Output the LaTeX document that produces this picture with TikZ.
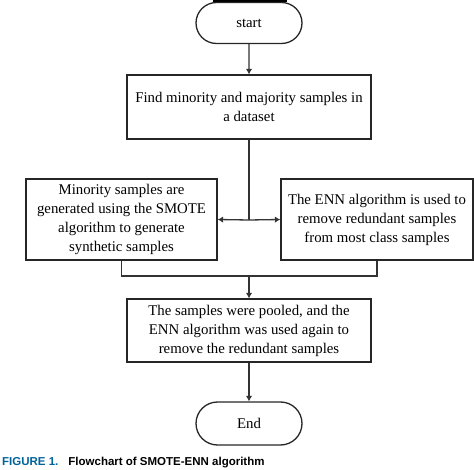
\documentclass[tikz,border=0pt]{standalone}
\usepackage{fontspec}
\setmainfont{Liberation Serif}
\newfontfamily\capfont{Liberation Sans}
\usetikzlibrary{arrows.meta,shapes.misc}
\definecolor{capblue}{RGB}{0,98,155}
\tikzset{
  every node/.style={font=\fontsize{14.8}{19}\selectfont},
  box/.style={draw=black!85,line width=1.3pt,rectangle,align=center,inner sep=0pt},
  term/.style={draw=black!85,line width=1.3pt,rounded rectangle,inner sep=0pt},
  line/.style={draw=black!80,line width=1.3pt},
  arr/.style={line,-{Latex[length=5.5pt,width=6.5pt]}}
}
\begin{document}
\begin{tikzpicture}[x=1pt,y=-1pt]
\useasboundingbox (0,0) rectangle (474,470);
\clip (0,0) rectangle (474,470);
\fill[black] (213,0) rectangle (287,2.5);
\node[term,minimum width=106pt,minimum height=41pt] (start) at (249,23) {start};
\node[box,minimum width=244pt,minimum height=64pt] (find) at (249,107) {Find minority and majority samples in\\a dataset};
\node[box,minimum width=191pt,minimum height=81pt] (smote) at (121.5,219.5) {Minority samples are\\generated using the SMOTE\\algorithm to generate\\synthetic samples};
\node[box,minimum width=192pt,minimum height=81pt] (enn) at (377,219.5) {The ENN algorithm is used to\\remove redundant samples\\from most class samples};
\node[box,minimum width=244pt,minimum height=63pt] (pool) at (249,330.5) {The samples were pooled, and the\\ENN algorithm was used again to\\remove the redundant samples};
\node[term,minimum width=106pt,minimum height=43pt] (end) at (249,423.5) {End};
\coordinate (j) at (249,220);
\coordinate (k) at (249,276);
\draw[arr] (start) -- (find);
\draw[line] (find.south) -- (j);
\draw[arr] (j) -- (smote.east);
\draw[arr] (j) -- (enn.west);
\draw[line] (smote.south) |- (k) -| (enn.south);
\draw[arr] (k) -- (pool.north);
\draw[arr] (pool) -- (end);
\node[anchor=south west,inner sep=0pt,font=\capfont\bfseries\fontsize{11.5}{13}\selectfont] (cap) at (2,468) {\textcolor{capblue}{FIGURE 1.}\hspace{10pt}Flowchart of SMOTE-ENN algorithm};
\end{tikzpicture}
\end{document}
